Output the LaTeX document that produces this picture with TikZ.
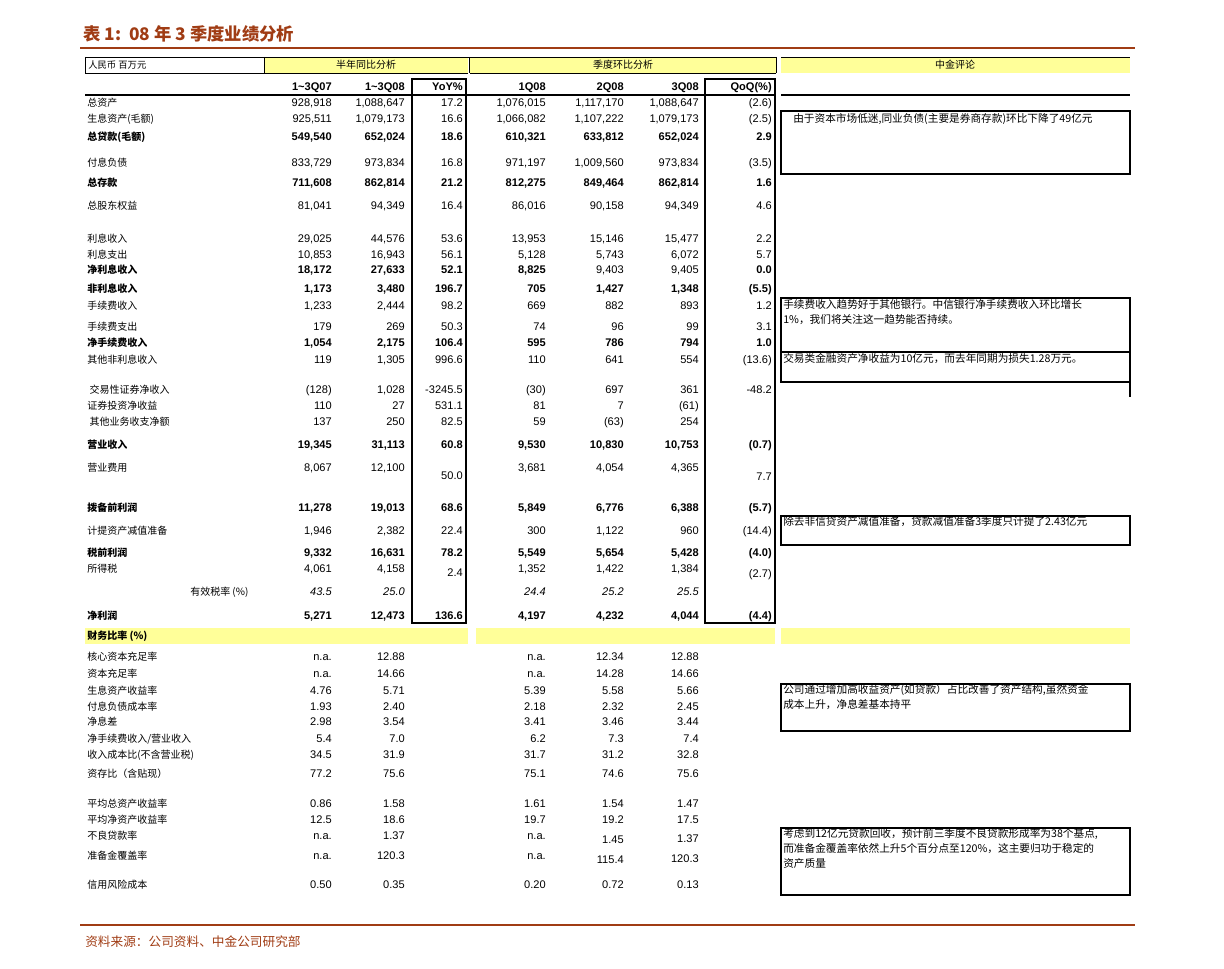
\documentclass[tikz,border=0pt]{standalone}
\usepackage{fontspec}
\setmainfont{Liberation Sans}
\newfontfamily\cjk{Noto Sans CJK SC}
\definecolor{ttl}{RGB}{160,60,20}
\definecolor{ylw}{RGB}{255,255,153}
\newcommand\rf{\mdseries\upshape}
\newcommand\trow[9]{%
\node[lab] at (87,#1) {\rf #2};
\node[num] at (332,#1) {\rf #3};
\node[num] at (405,#1) {\rf #4};
\node[num] at (463,#1) {\rf #5};
\node[num] at (546,#1) {\rf #6};
\node[num] at (624,#1) {\rf #7};
\node[num] at (699,#1) {\rf #8};
\node[num] at (772,#1) {\rf #9};}
\begin{document}
\begin{tikzpicture}[x=0.75pt,y=-0.75pt,
 lab/.style={anchor=west,inner sep=0pt,text height=6.5pt,text depth=1.5pt,font=\cjk\fontsize{7.5}{9}\selectfont},
 num/.style={anchor=east,inner sep=0pt,text height=6.5pt,text depth=1.5pt,font=\fontsize{8.3}{10}\selectfont},
 hd/.style={inner sep=0pt,text height=6.5pt,text depth=1.5pt,font=\bfseries\fontsize{8.3}{10}\selectfont},
 cmt/.style={anchor=north west,inner sep=0pt,align=left,font=\cjk\fontsize{8}{11.5}\selectfont},
 cbox/.style={draw,line width=0.9pt},
 bx/.style={draw,line width=1pt}]
\useasboundingbox (0,0) rectangle (1224,969);
% title
\node[anchor=west,inner sep=0pt,text=ttl,font=\cjk\bfseries\fontsize{13}{15}\selectfont] (title) at (83,34) {表 1:\ \ 08 年 3 季度业绩分析};
\draw[ttl,line width=0.8pt] (80,48) -- (1135,48);
\draw[ttl,line width=0.8pt] (80,925) -- (1135,925);
\node[anchor=west,inner sep=0pt,text=ttl,font=\cjk\fontsize{9.5}{11}\selectfont] (src) at (85,942) {资料来源：公司资料、中金公司研究部};
% header bars
\fill[ylw] (265,57) rectangle (468,73);
\fill[ylw] (470,57) rectangle (776,73);
\fill[ylw] (781,57) rectangle (1130,73);
\draw (85,57) -- (776,57) (781,57) -- (1130,57);
\draw (85,73) -- (468,73) (470,73) -- (776,73);
\draw (85,57) -- (85,73) (264,57) -- (264,73) (469,57) -- (469,73) (776,57)--(776,73);
\node[lab,font=\cjk\itshape\fontsize{7}{9}\selectfont] (rmb) at (88,65) {人民币 百万元};
\node[hd,font=\cjk\fontsize{7.5}{9}\selectfont] (h1) at (366,65) {半年同比分析};
\node[hd,font=\cjk\fontsize{7.5}{9}\selectfont] (h2) at (623,65) {季度环比分析};
\node[hd,font=\cjk\fontsize{7.5}{9}\selectfont] (h3) at (955,65) {中金评论};
\draw[line width=1pt] (85,95) -- (775,95) (781,95) -- (1130,95);
% column headers
\node[hd,anchor=east] at (332,87) {1\textasciitilde3Q07};
\node[hd,anchor=east] at (405,87) {1\textasciitilde3Q08};
\node[hd,anchor=east] at (463,87) {YoY\%};
\node[hd,anchor=east] at (546,87) {1Q08};
\node[hd,anchor=east] at (624,87) {2Q08};
\node[hd,anchor=east] at (699,87) {3Q08};
\node[hd,anchor=east] at (772,87) {QoQ(\%)};
% boxes around YoY / QoQ
\draw[bx] (412,79) rectangle (466,623);
\draw[bx] (705,79) rectangle (775,623);
% rows
\trow{103}{总资产}{928,918}{1,088,647}{17.2}{1,076,015}{1,117,170}{1,088,647}{(2.6)}
\trow{119}{生息资产(毛额)}{925,511}{1,079,173}{16.6}{1,066,082}{1,107,222}{1,079,173}{(2.5)}
\renewcommand\rf{\bfseries}
\trow{137}{总贷款(毛额)}{549,540}{652,024}{18.6}{610,321}{633,812}{652,024}{2.9}
\renewcommand\rf{\mdseries}
\trow{163}{付息负债}{833,729}{973,834}{16.8}{971,197}{1,009,560}{973,834}{(3.5)}
\renewcommand\rf{\bfseries}
\trow{183}{总存款}{711,608}{862,814}{21.2}{812,275}{849,464}{862,814}{1.6}
\renewcommand\rf{\mdseries}
\trow{206}{总股东权益}{81,041}{94,349}{16.4}{86,016}{90,158}{94,349}{4.6}
\trow{239}{利息收入}{29,025}{44,576}{53.6}{13,953}{15,146}{15,477}{2.2}
\trow{255}{利息支出}{10,853}{16,943}{56.1}{5,128}{5,743}{6,072}{5.7}
\renewcommand\rf{\bfseries}
\trow{270}{净利息收入}{18,172}{27,633}{52.1}{8,825}{\mdseries 9,403}{\mdseries 9,405}{0.0}
\trow{289}{非利息收入}{1,173}{3,480}{196.7}{705}{1,427}{1,348}{(5.5)}
\renewcommand\rf{\mdseries}
\trow{306}{手续费收入}{1,233}{2,444}{98.2}{669}{882}{893}{1.2}
\trow{327}{手续费支出}{179}{269}{50.3}{74}{96}{99}{3.1}
\renewcommand\rf{\bfseries}
\trow{343}{净手续费收入}{1,054}{2,175}{106.4}{595}{786}{794}{1.0}
\renewcommand\rf{\mdseries}
\trow{360}{其他非利息收入}{119}{1,305}{996.6}{110}{641}{554}{(13.6)}
\trow{390}{\ 交易性证券净收入}{(128)}{1,028}{-3245.5}{(30)}{697}{361}{-48.2}
\trow{406}{证券投资净收益}{110}{27}{531.1}{81}{7}{(61)}{}
\trow{422}{\ 其他业务收支净额}{137}{250}{82.5}{59}{(63)}{254}{}
\renewcommand\rf{\bfseries}
\trow{445}{营业收入}{19,345}{31,113}{60.8}{9,530}{10,830}{10,753}{(0.7)}
\renewcommand\rf{\mdseries}
\trow{468}{营业费用}{8,067}{12,100}{}{3,681}{4,054}{4,365}{}
\node[num] at (463,476) {50.0};
\node[num] at (772,477) {7.7};
\renewcommand\rf{\bfseries}
\trow{508}{拨备前利润}{11,278}{19,013}{68.6}{5,849}{6,776}{6,388}{(5.7)}
\renewcommand\rf{\mdseries}
\trow{531}{计提资产减值准备}{1,946}{2,382}{22.4}{300}{1,122}{960}{(14.4)}
\renewcommand\rf{\bfseries}
\trow{553}{税前利润}{9,332}{16,631}{78.2}{5,549}{5,654}{5,428}{(4.0)}
\renewcommand\rf{\mdseries}
\trow{569}{所得税}{4,061}{4,158}{}{1,352}{1,422}{1,384}{}
\node[num] at (463,573) {2.4};
\node[num] at (772,574) {(2.7)};
\renewcommand\rf{\itshape}
\trow{592}{}{43.5}{25.0}{}{24.4}{25.2}{25.5}{}
\node[lab,font=\cjk\itshape\fontsize{7.5}{9}\selectfont] at (190,592) {有效税率 (\%)};
\renewcommand\rf{\bfseries}
\trow{616}{净利润}{5,271}{12,473}{136.6}{4,197}{4,232}{4,044}{(4.4)}
% ratio bar
\fill[ylw] (85,628) rectangle (468,644);
\fill[ylw] (476,628) rectangle (775,644);
\fill[ylw] (781,628) rectangle (1130,644);
\node[lab,font=\cjk\bfseries\fontsize{7.5}{9}\selectfont] at (87,636) {财务比率 \textbf{(\%)}};
\renewcommand\rf{\mdseries\upshape}
\trow{657}{核心资本充足率}{n.a.}{12.88}{}{n.a.}{12.34}{12.88}{}
\trow{674}{资本充足率}{n.a.}{14.66}{}{n.a.}{14.28}{14.66}{}
\trow{691}{生息资产收益率}{4.76}{5.71}{}{5.39}{5.58}{5.66}{}
\trow{707}{付息负债成本率}{1.93}{2.40}{}{2.18}{2.32}{2.45}{}
\trow{722}{净息差}{2.98}{3.54}{}{3.41}{3.46}{3.44}{}
\trow{739}{净手续费收入/营业收入}{5.4}{7.0}{}{6.2}{7.3}{7.4}{}
\trow{755}{收入成本比(不含营业税)}{34.5}{31.9}{}{31.7}{31.2}{32.8}{}
\trow{774}{资存比（含贴现）}{77.2}{75.6}{}{75.1}{74.6}{75.6}{}
\trow{804}{平均总资产收益率}{0.86}{1.58}{}{1.61}{1.54}{1.47}{}
\trow{820}{平均净资产收益率}{12.5}{18.6}{}{19.7}{19.2}{17.5}{}
\trow{836}{不良贷款率}{n.a.}{1.37}{}{n.a.}{}{}{}
\node[num] at (624,840) {1.45};
\node[num] at (699,839) {1.37};
\trow{856}{准备金覆盖率}{n.a.}{120.3}{}{n.a.}{}{}{}
\node[num] at (624,860) {115.4};
\node[num] at (699,859) {120.3};
\trow{885}{信用风险成本}{0.50}{0.35}{}{0.20}{0.72}{0.13}{}
% comment boxes
\draw[cbox] (781,111) rectangle (1130,174);
\node[cmt] (c1) at (793,113) {由于资本市场低迷,同业负债(主要是券商存款)环比下降了49亿元};
\draw[cbox] (781,298) rectangle (1130,352);
\node[cmt] (c2) at (783,299) {手续费收入趋势好于其他银行。中信银行净手续费收入环比增长\\1\%，我们将关注这一趋势能否持续。};
\draw[cbox] (781,352) rectangle (1130,382);
\draw[cbox] (1130,382) -- (1130,397);
\node[cmt] (c3) at (783,353) {交易类金融资产净收益为10亿元，而去年同期为损失1.28万元。};
\draw[cbox] (781,516) rectangle (1130,545);
\node[cmt] (c4) at (783,516) {除去非信贷资产减值准备，贷款减值准备3季度只计提了2.43亿元};
\draw[cbox] (781,684) rectangle (1130,731);
\node[cmt] (c5) at (783,684) {公司通过增加高收益资产(如贷款）占比改善了资产结构,虽然资金\\成本上升，净息差基本持平};
\draw[cbox] (781,828) rectangle (1130,895);
\node[cmt] (c6) at (783,828) {考虑到12亿元贷款回收，预计前三季度不良贷款形成率为38个基点,\\而准备金覆盖率依然上升5个百分点至120\%，这主要归功于稳定的\\资产质量};
\end{tikzpicture}
\end{document}
